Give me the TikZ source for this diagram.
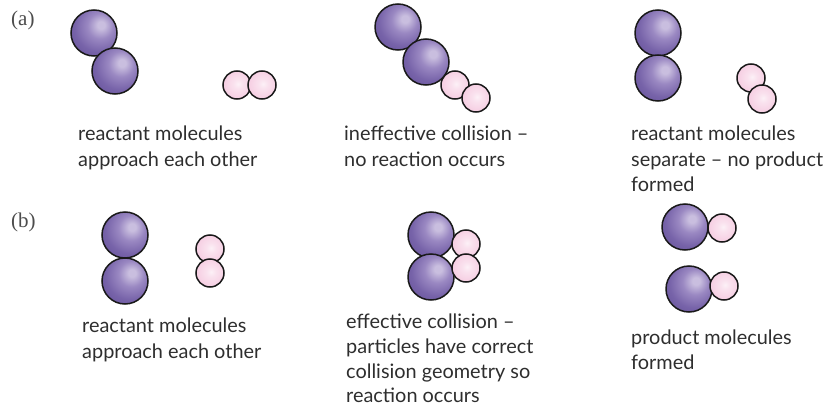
\documentclass[tikz,border=0pt]{standalone}
\usepackage{fontspec}
\setmainfont{Lato}
\newfontfamily\labelserif{Liberation Serif}
\definecolor{txt}{HTML}{2E2E2E}
\definecolor{pbmid}{HTML}{7763A9}
\definecolor{pbdark}{HTML}{5A4690}
\definecolor{pblight}{HTML}{C9BEDF}
\definecolor{pbhalf}{HTML}{9A88C2}
\definecolor{pkmid}{HTML}{F6CFE3}
\definecolor{pkdark}{HTML}{EDB4D2}
\pgfdeclareradialshading{purpleballx}{\pgfpoint{8bp}{9bp}}{
 color(0bp)=(pblight); color(4bp)=(pblight); color(14bp)=(pbhalf);
 color(27bp)=(pbmid); color(50bp)=(pbdark); color(100bp)=(pbdark)}
\pgfdeclareradialshading{pinkballx}{\pgfpoint{2bp}{2bp}}{
 color(0bp)=(white!70!pkmid); color(8bp)=(white!40!pkmid); color(25bp)=(pkmid);
 color(50bp)=(pkdark); color(100bp)=(pkdark)}
\tikzset{
 big/.style={circle,draw=black!90,line width=1.5pt,inner sep=0pt,minimum size=46pt,shading=purpleballx},
 small/.style={circle,draw=black!90,line width=1.5pt,inner sep=0pt,minimum size=28pt,shading=pinkballx},
 captext/.style={anchor=north west,align=left,inner sep=0pt,text=txt,font=\fontsize{19.9}{25.5}\selectfont},
 captight/.style={captext,font=\fontsize{19.9}{24.7}\selectfont},
 tag/.style={anchor=west,inner sep=0pt,text=black!70,font=\labelserif\fontsize{21}{23}\selectfont}
}
\begin{document}
\begin{tikzpicture}[x=1pt,y=-1pt]
\useasboundingbox (0,0) rectangle (835,420);
\node[tag] (ta) at (11,20) {(a)};
\node[tag] (tb) at (11,222) {(b)};
% row a
\node[big] (a1a) at (94,33) {};
\node[big] (a1b) at (115,71) {};
\node[small] (a1c) at (237,85) {};
\node[small] (a1d) at (262,85) {};
\node[big] (a2a) at (398,27) {};
\node[big] (a2b) at (426,62) {};
\node[small] (a2c) at (455,85) {};
\node[small] (a2d) at (476,98) {};
\node[big] (a3a) at (658,33) {};
\node[big] (a3b) at (658,78) {};
\node[small] (a3c) at (751,78) {};
\node[small] (a3d) at (762,99) {};
% row b
\node[big] (b1a) at (125,235) {};
\node[big] (b1b) at (125,281) {};
\node[small] (b1c) at (210,249) {};
\node[small] (b1d) at (210,273) {};
\node[big] (b2a) at (431,235) {};
\node[big] (b2b) at (431,277) {};
\node[small] (b2c) at (466,244) {};
\node[small] (b2d) at (466,268) {};
\node[big] (b3a) at (685,227) {};
\node[small] (b3b) at (722,228) {};
\node[big] (b3c) at (689,289) {};
\node[small] (b3d) at (724,286) {};
% captions
\node[captext] (c1) at (78,126) {reactant molecules\\approach each other};
\node[captext] (c2) at (344,126) {ineffective collision –\\no reaction occurs};
\node[captext] (c3) at (631,126) {reactant molecules\\separate – no product\\formed};
\node[captext] (c4) at (82,318) {reactant molecules\\approach each other};
\node[captight] (c5) at (346,314) {effective collision –\\particles have correct\\collision geometry so\\reaction occurs};
\node[captight] (c6) at (631,330) {product molecules\\formed};
\end{tikzpicture}
\end{document}
